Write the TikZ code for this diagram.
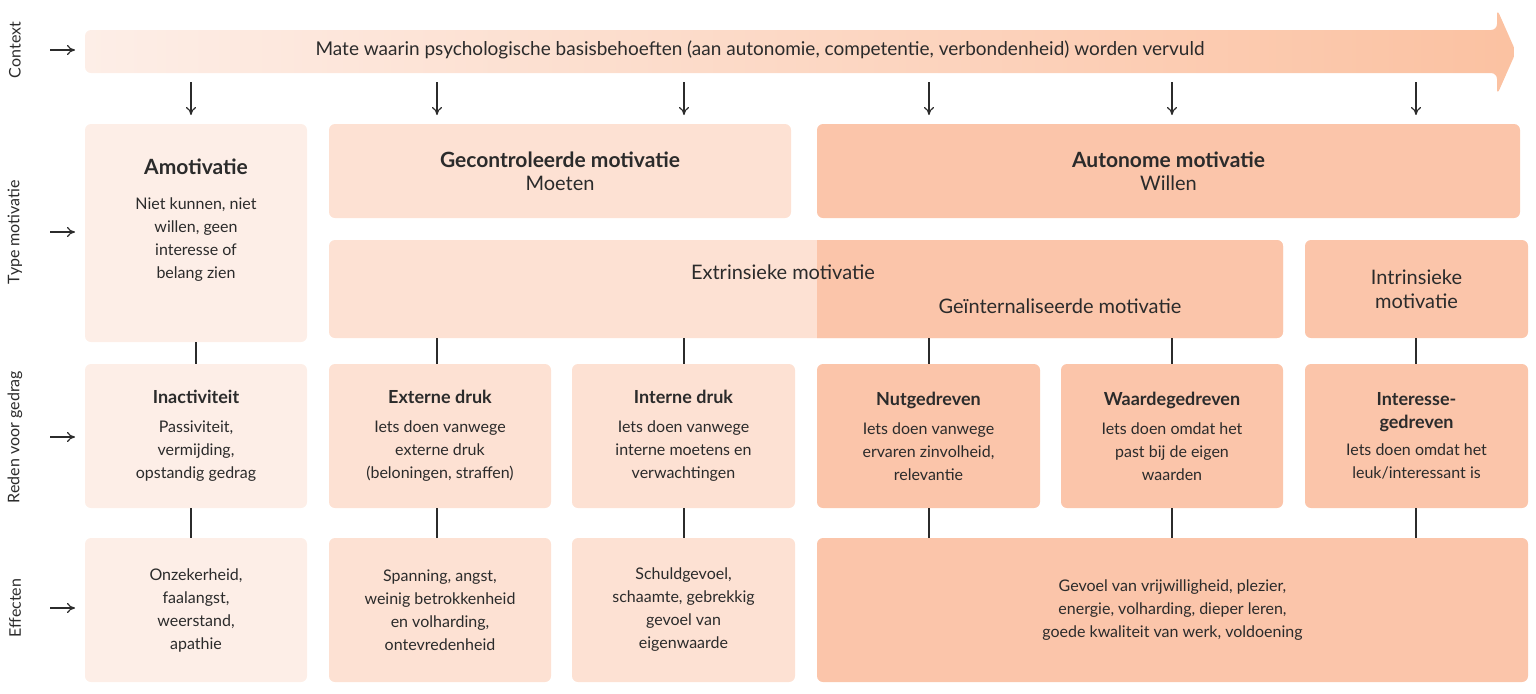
\documentclass[tikz,border=0pt]{standalone}
\usepackage{fontspec}
\setmainfont{Lato}
\usetikzlibrary{arrows.meta}
\definecolor{lightc}{HTML}{FDEEE7}
\definecolor{midc}{HTML}{FDE1D3}
\definecolor{strongc}{HTML}{FBC5AA}
\definecolor{txtc}{HTML}{2B2B2B}
\newcommand{\bigtxt}{\fontsize{10}{12}\selectfont}

\begin{document}
\begin{tikzpicture}[x=0.5pt,y=-0.5pt,>={To[length=4pt,width=5pt]},
  every node/.style={text=txtc,font=\fontsize{8}{11.5}\selectfont,align=center},
  box/.style={rounded corners=3pt,inner sep=0pt,draw=none},
  light box/.style={box,fill=lightc},
  mid box/.style={box,fill=midc},
  strong box/.style={box,fill=strongc},
  side label/.style={rotate=90,font=\fontsize{8}{10}\selectfont},
  big/.style={font=\fontsize{10}{12}\selectfont},
  link/.style={line width=0.6pt,txtc}]
  \useasboundingbox (0,0) rectangle (1536,693);

  % context arrow
  \shade[left color=lightc,right color=strongc!95!orange,rounded corners=3pt]
    (85,30) -- (1497,30) -- (1497,9) -- (1516,52) -- (1497,95) -- (1497,73) -- (85,73) -- cycle;
  \node (ctx) at (760,50) {\fontsize{9.5}{11}\selectfont Mate waarin psychologische basisbehoeften (aan autonomie, competentie, verbondenheid) worden vervuld};

  % side labels
  \node[side label] (lctx) at (15,50) {Context};
  \node[side label] (ltype) at (15,232) {Type motivatie};
  \node[side label] (lred) at (15,437) {Reden voor gedrag};
  \node[side label] (leff) at (15,608) {Effecten};
  \foreach \y in {50,232,437,608}
    \draw[->,link] (50,\y) -- (75,\y);

  % type motivatie
  \node[light box,minimum width=111pt,minimum height=109pt] (amo) at (196,233) {};
  \node at (196,220) {{\fontsize{10.5}{12}\selectfont\bfseries Amotivatie}\\[6pt]Niet kunnen, niet\\willen, geen\\interesse of\\belang zien};
  \node[mid box,minimum width=231pt,minimum height=47pt] (gec) at (560,171) {};
  \node at (gec) {{\fontsize{10.5}{12}\selectfont\bfseries Gecontroleerde motivatie}\\{\bigtxt Moeten}};
  \node[strong box,minimum width=351.5pt,minimum height=47pt] (aut) at (1168.5,171) {};
  \node at (aut) {{\fontsize{10.5}{12}\selectfont\bfseries Autonome motivatie}\\{\bigtxt Willen}};
  \node[mid box,minimum width=477pt,minimum height=49pt] (extr) at (806,289) {};
  \begin{scope}
    \clip (817,230) rectangle (1300,350);
    \fill[strongc,rounded corners=3pt] (329,240) rectangle (1283,338);
  \end{scope}
  \node[big] at (783,272) {Extrinsieke motivatie};
  \node[big] at (1060,306) {Geïnternaliseerde motivatie};
  \node[strong box,minimum width=111.5pt,minimum height=49pt] (intr) at (1416.5,289) {};
  \node[big] at (intr) {Intrinsieke\\motivatie};

  \foreach \x in {191,437,684,929,1172,1416}
    \draw[->,link] (\x,82) -- (\x,115);

  % reden voor gedrag
  \node[light box,minimum width=111pt,minimum height=72pt] (inact) at (196,436) {\textbf{\fontsize{9}{11}\selectfont Inactiviteit}\\[3pt]Passiviteit,\\vermijding,\\opstandig gedrag};
  \node[mid box,minimum width=111pt,minimum height=72pt] (extdr) at (440,436) {\textbf{\fontsize{9}{11}\selectfont Externe druk}\\[3pt]Iets doen vanwege\\externe druk\\(beloningen, straffen)};
  \node[mid box,minimum width=111.5pt,minimum height=72pt] (intdr) at (683.5,436) {\textbf{\fontsize{9}{11}\selectfont Interne druk}\\[3pt]Iets doen vanwege\\interne moetens en\\verwachtingen};
  \node[strong box,minimum width=111.5pt,minimum height=72pt] (nut) at (928.5,436) {\textbf{\fontsize{9}{11}\selectfont Nutgedreven}\\[3pt]Iets doen vanwege\\ervaren zinvolheid,\\relevantie};
  \node[strong box,minimum width=111pt,minimum height=72pt] (waarde) at (1172,436) {\textbf{\fontsize{9}{11}\selectfont Waardegedreven}\\[3pt]Iets doen omdat het\\past bij de eigen\\waarden};
  \node[strong box,minimum width=111.5pt,minimum height=72pt] (inter) at (1416.5,436) {\textbf{\fontsize{9}{11}\selectfont Interesse-}\\\textbf{\fontsize{9}{11}\selectfont gedreven}\\[2pt]Iets doen omdat het\\leuk/interessant is};

  % effecten
  \node[light box,minimum width=111pt,minimum height=72pt] (eamo) at (196,610) {Onzekerheid,\\faalangst,\\weerstand,\\apathie};
  \node[mid box,minimum width=111pt,minimum height=72pt] (eext) at (440,610) {Spanning, angst,\\weinig betrokkenheid\\en volharding,\\ontevredenheid};
  \node[mid box,minimum width=111.5pt,minimum height=72pt] (eint) at (683.5,610) {Schuldgevoel,\\schaamte, gebrekkig\\gevoel van\\eigenwaarde};
  \node[strong box,minimum width=355.5pt,minimum height=72pt] (eaut) at (1172.5,610) {Gevoel van vrijwilligheid, plezier,\\energie, volharding, dieper leren,\\goede kwaliteit van werk, voldoening};

  % connectors
  \draw[link] (amo.south -| inact.north) -- (inact.north);
  \draw[link] (extr.south -| 437,0) -- (437,364);
  \draw[link] (extr.south -| 684,0) -- (684,364);
  \draw[link] (extr.south -| 929,0) -- (929,364);
  \draw[link] (extr.south -| 1172,0) -- (1172,364);
  \draw[link] (intr.south -| 1416,0) -- (1416,364);
  \draw[link] (inact.south -| 191,0) -- (eamo.north -| 191,0);
  \draw[link] (extdr.south -| 437,0) -- (eext.north -| 437,0);
  \draw[link] (intdr.south -| 684,0) -- (eint.north -| 684,0);
  \draw[link] (nut.south -| 929,0) -- (eaut.north -| 929,0);
  \draw[link] (waarde.south -| 1172,0) -- (eaut.north -| 1172,0);
  \draw[link] (inter.south -| 1416,0) -- (eaut.north -| 1416,0);
\end{tikzpicture}
\end{document}
